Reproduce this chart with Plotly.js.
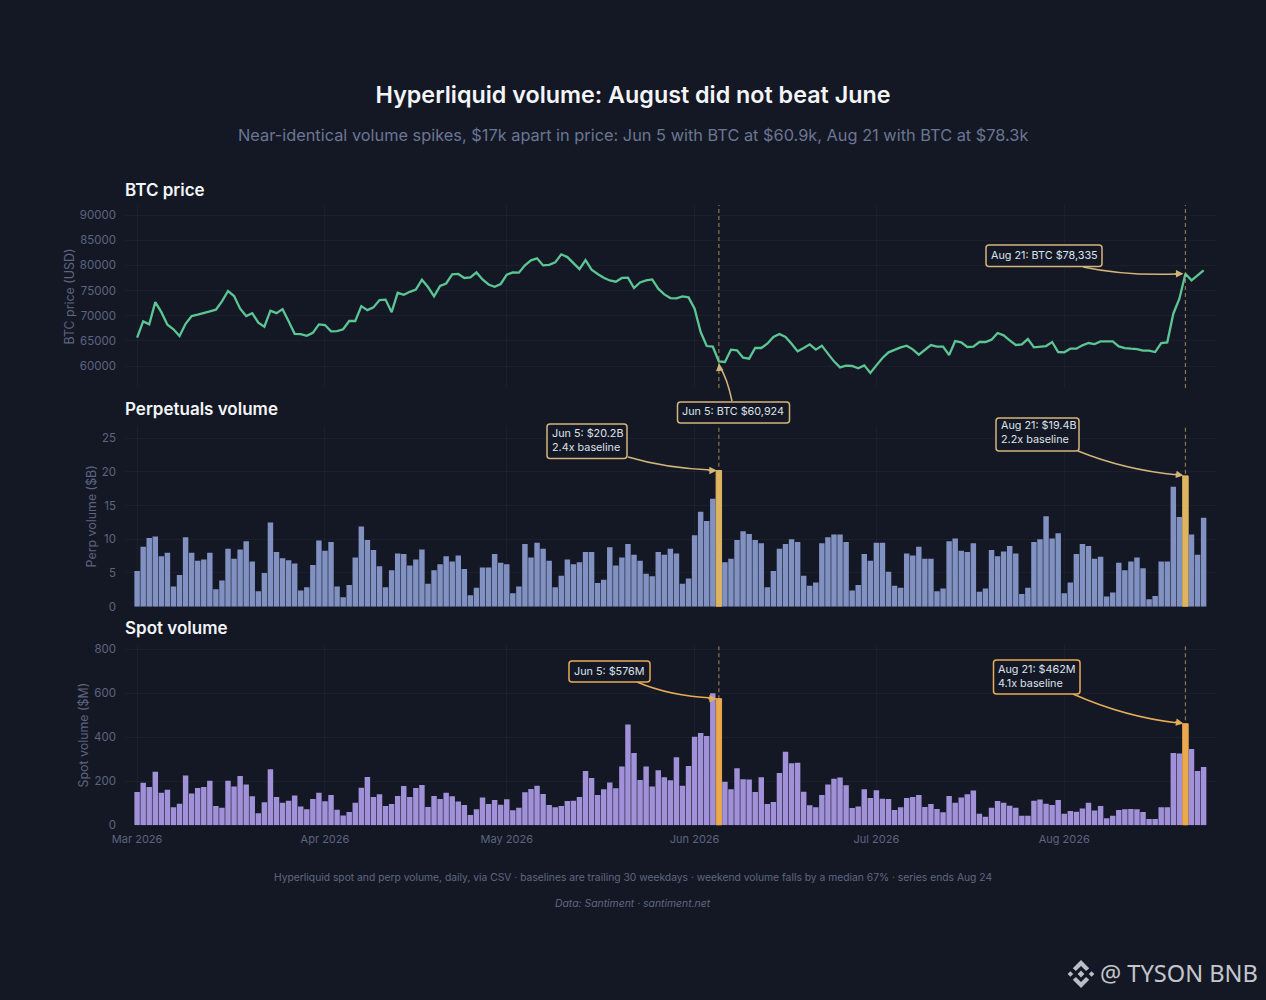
<!DOCTYPE html>
<html>
<head>
<meta charset="utf-8">
<script src="https://cdn.plot.ly/plotly-3.0.1.min.js"></script>
<style>html,body{margin:0;padding:0;background:#141824}#c{width:1266px;height:1000px}</style>
</head>
<body>
<div id="c"></div>
<script>
const btcPrice = [65630,68870,68280,72700,70700,68200,67300,65960,68400,69930,70200,70460,70860,71200,72850,74900,73900,71400,69930,70500,68600,67800,71000,70500,71300,68900,66400,66350,66000,66600,68280,68150,66900,66950,67300,68950,68950,71900,71100,71650,73100,73200,70700,74550,74150,74750,75200,77150,75700,73850,75900,76400,78200,78300,77500,77600,78600,77200,76200,75760,76300,78150,78600,78550,80000,81000,81400,80000,80100,80600,82200,81650,80450,79250,81050,79150,78300,77550,77000,76750,77500,77550,75500,76600,77000,77200,
75364,74238,73510,73444,73841,73642,71391,66755,63974,63841,60924,60795,63245,63113,61656,61457,63576,63576,64437,65762,66358,65762,64437,62914,63576,64305,63245,64040,62450,60927,59735,60066,60000,59536,60132,58609,60132,61589,62715,63245,63709,64040,63311,62252,63245,64172,63841,63841,62185,64967,64702,63775,63841,64768,64768,65232,66556,66093,65099,64172,64305,65364,63709,63907,63974,64768,62781,62715,63444,63444,64106,64570,64371,64901,64967,64901,63907,63576,63444,63377,63046,63046,62781,64570,64702,70397,73377,78335,77020,77947,79007];
const perpVolume = [5.3,8.9,10.2,10.4,7.5,8.0,3.0,4.7,10.3,8.0,6.8,7.0,8.0,2.6,3.9,8.6,7.1,8.5,9.7,6.7,2.3,5.0,12.5,8.1,7.2,6.9,6.4,2.4,2.9,6.2,9.8,8.3,9.6,3.0,1.4,3.2,7.3,11.9,9.9,8.4,6.0,2.9,
5.4,7.9,7.8,6.1,7.0,8.5,3.4,5.4,6.3,7.5,6.7,7.6,5.6,1.7,2.8,5.8,5.8,7.8,6.5,6.3,2.0,3.0,9.3,7.3,9.5,8.6,6.8,2.9,4.6,7.0,6.3,6.6,8.1,8.1,3.5,4.0,8.8,6.1,7.3,9.3,7.7,6.8,4.9,4.5,8.1,7.7,8.6,7.9,3.4,4.2,10.6,14.1,12.7,16.0,20.2,
6.6,7.1,9.9,11.2,10.8,9.9,9.4,2.9,5.3,8.6,9.3,10.0,9.6,4.6,3.1,3.6,9.4,10.3,10.7,10.7,9.6,2.4,3.2,7.8,6.8,9.5,9.5,5.2,3.1,2.8,7.9,7.6,8.9,7.1,7.1,2.3,2.7,9.7,10.1,8.3,8.1,9.4,2.2,2.7,8.4,7.5,8.2,9.0,7.9,1.9,2.8,9.6,10.0,13.4,10.1,10.9,2.0,3.6,7.8,9.3,9.0,7.1,7.4,1.5,2.1,6.5,5.4,6.7,7.3,5.7,1.1,1.6,6.7,6.7,17.8,13.3,19.4,10.7,7.7,13.2];
const spotVolume = [152,194,174,244,148,162,82,98,227,145,170,174,203,88,80,203,177,224,185,132,55,105,255,129,103,112,135,86,73,120,148,109,138,71,45,61,102,171,220,129,141,88,
97,133,179,129,170,183,83,133,120,148,132,108,92,47,73,126,97,115,94,118,68,80,150,165,180,142,92,82,88,111,112,129,247,215,138,164,195,168,267,458,329,206,267,177,250,218,205,309,180,270,403,420,406,600,576,
198,164,259,209,208,152,218,97,106,238,335,282,285,153,91,82,138,185,212,217,182,79,86,164,124,159,121,120,70,82,124,129,138,83,97,74,59,133,103,127,141,158,53,39,80,111,103,89,80,44,44,112,117,98,92,115,52,65,62,76,102,67,88,32,44,70,73,74,73,61,29,29,82,82,329,327,462,347,247,265];
const spikeDates = ['2026-06-05','2026-08-21'];
const startDate = Date.UTC(2026,2,1);
const dates = btcPrice.map((_,i)=>new Date(startDate+i*864e5).toISOString().slice(0,10));

const W=1266,H=1000;
const BG='#141824', GRID='rgba(255,255,255,0.03)', TICK='#5d6480', FONT='Inter, "Noto Sans", sans-serif';
const px=x=>x/W, py=y=>1-y/H;
const path=(s)=>s.replace(/(-?[\d.]+) (-?[\d.]+)/g,(m,a,b)=>`${px(+a)} ${py(+b)}`);
const roundRect=(x0,y0,x1,y1,r)=>path(`M${x0+r} ${y0} L${x1-r} ${y0} Q${x1} ${y0} ${x1} ${y0+r} L${x1} ${y1-r} Q${x1} ${y1} ${x1-r} ${y1} L${x0+r} ${y1} Q${x0} ${y1} ${x0} ${y1-r} L${x0} ${y0+r} Q${x0} ${y0} ${x0+r} ${y0} Z`);

const barColors=(base,hi)=>dates.map(d=>spikeDates.includes(d)?hi:base);
const barLines=(w)=>dates.map(d=>spikeDates.includes(d)?w:0);

const traces=[
 {type:'scatter',mode:'lines',x:dates,y:btcPrice,xaxis:'x',yaxis:'y',line:{color:'#5cc594',width:2.3},hoverinfo:'skip'},
 {type:'bar',x:dates,y:perpVolume,xaxis:'x2',yaxis:'y2',marker:{color:barColors('#8192c2','#dfb55f'),line:{color:barColors('#8192c2','#dfb55f'),width:barLines(1)}},hoverinfo:'skip'},
 {type:'bar',x:dates,y:spotVolume,xaxis:'x3',yaxis:'y3',marker:{color:barColors('#a191d8','#eca94a'),line:{color:barColors('#a191d8','#eca94a'),width:barLines(1)}},hoverinfo:'skip'}
];

const xDom=[px(125),px(1217)];
const xRange=['2026-02-27','2026-08-26 05:00'];
const xBase={type:'date',range:xRange,domain:xDom,tick0:'2026-03-01',dtick:'M1',tickformat:'%b %Y',gridcolor:GRID,gridwidth:1,showline:false,zeroline:false,ticks:'',ticklabelstandoff:6,tickfont:{family:FONT,size:11,color:TICK}};
const yBase=(title,range,dtick,dom,standoff)=>({range,dtick,domain:dom,tickformat:'d',gridcolor:GRID,gridwidth:1,showline:false,zeroline:false,ticks:'',ticklen:0,ticklabelstandoff:8,tickfont:{family:FONT,size:11.5,color:TICK},title:{text:title,font:{family:FONT,size:12.4,color:TICK},standoff}});

const box=(x0,y0,x1,y1,c)=>({type:'path',xref:'paper',yref:'paper',path:roundRect(x0,y0,x1,y1,3),fillcolor:BG,line:{color:c,width:1.5},layer:'above'});
const curve=(d,c)=>({type:'path',xref:'paper',yref:'paper',path:path(d),line:{color:c,width:1.5},layer:'above'});
const vline=(d,ax)=>({type:'line',xref:ax.replace('y','x'),yref:ax+' domain',x0:d,x1:d,y0:0,y1:1,line:{color:'rgba(214,176,110,0.62)',width:1.2,dash:'4px,3px'},layer:'above'});
const poly=(pts)=>({type:'path',xref:'paper',yref:'paper',path:path('M'+pts.map(p=>`${p[0]} ${p[1]}`).join(' L')+' Z'),fillcolor:'#b9bdc6',line:{width:0}});
const logo=(cx,cy)=>[
 [[0,-14],[8.2,-5.8],[5.1,-2.9],[0,-8],[-5.1,-2.9],[-8.2,-5.8]],
 [[0,14],[8.2,5.8],[5.1,2.9],[0,8],[-5.1,2.9],[-8.2,5.8]],
 [[0,-3.4],[3.4,0],[0,3.4],[-3.4,0]],
 [[-10.6,-2.8],[-7.8,0],[-10.6,2.8],[-13.4,0]],
 [[10.6,-2.8],[13.4,0],[10.6,2.8],[7.8,0]]
].map(a=>poly(a.map(p=>[cx+p[0],cy+p[1]])));

const TAN='#d2b57b', ORG='#e6ac58';
const shapes=[
 ...spikeDates.flatMap(d=>[vline(d,'y'),vline(d,'y2'),vline(d,'y3')]),
 curve('M732 401 Q727 378 720.5 368',TAN),
 curve('M1083 267 Q1125 276 1178 274',TAN),
 curve('M628 457 Q665 468 711 470',TAN),
 curve('M1078 451 Q1125 470 1178 475',TAN),
 curve('M637 682 Q670 696 712 698',ORG),
 curve('M1073 694 Q1125 717 1178 723',ORG),
 box(677.5,402,789.5,423,TAN),
 box(986,245,1102,266.5,TAN),
 box(547,424,627,458.5,TAN),
 box(996,418,1079,451,TAN),
 box(569,661,650,682,ORG),
 box(993.5,660,1080,694,ORG),
 ...logo(1081,974)
];

const text=(t,x,y,size,color,opts={})=>Object.assign({text:t,xref:'paper',yref:'paper',x:px(x),y:py(y),xanchor:'center',yanchor:'middle',showarrow:false,font:Object.assign({family:FONT,size,color},opts.font||{})},opts.a||{});
const label=(t,x,y)=>text(t,x-2,y,10.8,'#dde1ec',{a:{xanchor:'left',align:'left'}});
const panel=(t,y)=>text(t,123,y,17,'#f2f4f8',{a:{xanchor:'left'},font:{weight:600}});
const tip=(xa,ya,x,y,ax,ay,c)=>({xref:xa,yref:ya,x,y,ax,ay,text:'',showarrow:true,arrowhead:2,arrowsize:1,arrowwidth:1.5,arrowcolor:c,standoff:2});

const annotations=[
 text('Near-identical volume spikes, $17k apart in price: Jun 5 with BTC at $60.9k, Aug 21 with BTC at $78.3k',633,134.5,16.35,'#6a7693'),
 panel('BTC price',189.5),panel('Perpetuals volume',408.5),panel('Spot volume',627.5),
 label('Jun 5: BTC $60,924',682,412),
 label('Aug 21: BTC $78,335',991,255.5),
 label('Jun 5: $20.2B<br>2.4x baseline',552,440.5),
 label('Aug 21: $19.4B<br>2.2x baseline',1001,432.5),
 label('Jun 5: $576M',574,671),
 label('Aug 21: $462M<br>4.1x baseline',998,676.5),
 tip('x','y',spikeDates[0],btcPrice[96],1,10,TAN),
 tip('x','y',spikeDates[1],btcPrice[173],-12,0,TAN),
 tip('x2','y2',spikeDates[0],perpVolume[96],-12,0,TAN),
 tip('x2','y2',spikeDates[1],perpVolume[173],-12,-2,TAN),
 tip('x3','y3',spikeDates[0],spotVolume[96],-12,0,ORG),
 tip('x3','y3',spikeDates[1],spotVolume[173],-12,-2,ORG),
 text('Hyperliquid spot and perp volume, daily, via CSV · baselines are trailing 30 weekdays · weekend volume falls by a median 67% · series ends Aug 24',633,877,10.3,'#5f6782'),
 text('<i>Data: Santiment · santiment.net</i>',633,903,10.4,'#5f6782'),
 text('@ TYSON BNB',1178.5,973,23.6,'#c3c6cd',{font:{family:'"Noto Sans", sans-serif'}})
];

const layout={
 width:W,height:H,paper_bgcolor:BG,plot_bgcolor:BG,showlegend:false,bargap:0.1,
 margin:{l:0,r:0,t:0,b:0},
 title:{text:'Hyperliquid volume: August did not beat June',x:0.5,xanchor:'center',y:py(95),yanchor:'middle',font:{family:FONT,size:23.3,color:'#f4f5f8',weight:600}},
 xaxis:Object.assign({},xBase,{anchor:'y',showticklabels:false}),
 xaxis2:Object.assign({},xBase,{anchor:'y2',showticklabels:false,matches:'x'}),
 xaxis3:Object.assign({},xBase,{anchor:'y3',matches:'x'}),
 yaxis:yBase('BTC price (USD)',[55630,92000],5000,[py(388),py(205)],2),
 yaxis2:yBase('Perp volume ($B)',[0,26.8],5,[py(606.7),py(426)],2),
 yaxis3:yBase('Spot volume ($M)',[0,820],200,[py(825.3),py(645)],2),
 shapes,annotations
};
Plotly.newPlot('c',traces,layout,{displayModeBar:false,staticPlot:true});
</script>
</body>
</html>
